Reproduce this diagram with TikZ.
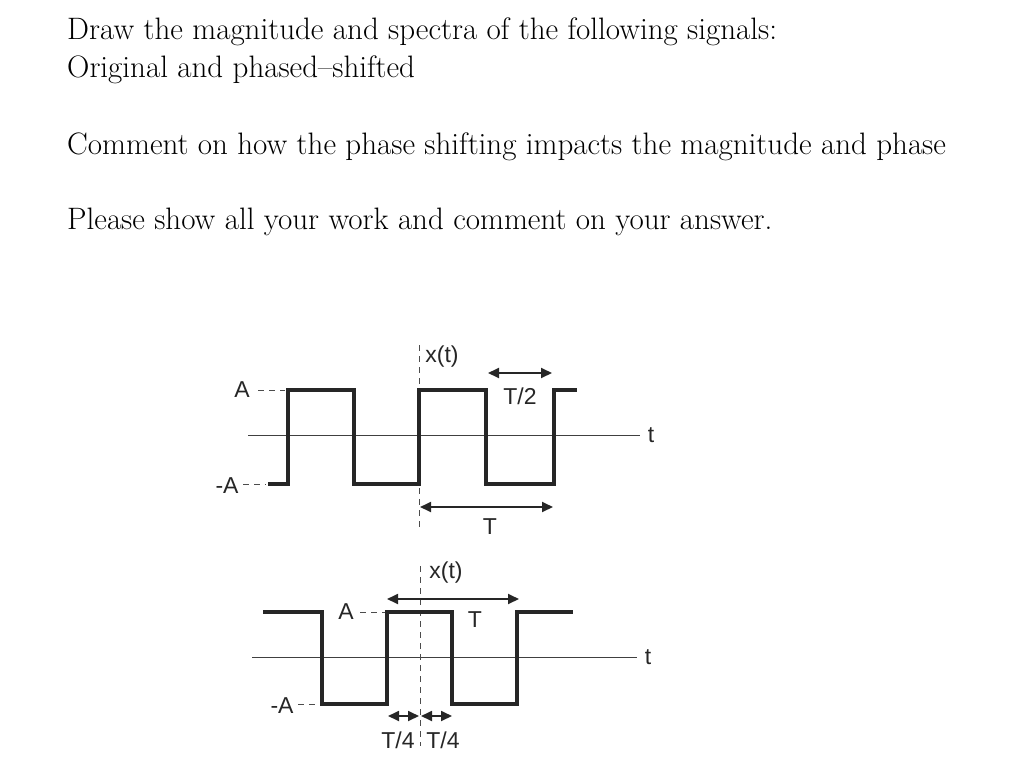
\documentclass[tikz,border=0pt]{standalone}
\usepackage{fontspec}
\newfontfamily\arial{Liberation Sans}
\usetikzlibrary{arrows.meta}
\begin{document}
\begin{tikzpicture}[x=1pt,y=-1pt,
  txt/.style={anchor=base west,inner sep=0pt,font=\fontsize{31}{36}\selectfont},
  lab/.style={inner sep=0pt,font=\arial\fontsize{23}{27}\selectfont,text=black!85},
  sig/.style={line width=3.4pt,black!85,line join=miter},
  ax/.style={line width=0.9pt,black!75},
  dsh/.style={dash pattern=on 6pt off 5pt,line width=0.8pt,black!70},
  dim/.style={line width=1.8pt,black!85,{Triangle[width=10pt,length=11pt]}-{Triangle[width=10pt,length=11pt]}}]
\useasboundingbox (0,0) rectangle (1024,781);
\node[txt] (l1) at (67,40) {Draw the magnitude and spectra of the following signals:};
\node[txt] (l2) at (67,78) {Original and phased--shifted};
\node[txt] (l3) at (67,154) {Comment on how the phase shifting impacts the magnitude and phase};
\node[txt] (l4) at (67,229) {Please show all your work and comment on your answer.};
% top signal
\draw[ax] (248,435) -- (640,435);
\node[lab] (t1) at (651,435) {t};
\draw[dsh] (419,345) -- (419,527);
\node[lab] (x1) at (442,357) {x(t)};
\draw[sig] (268,484) -- (288,484) -- (288,390) -- (354,390) -- (354,484) -- (419,484) -- (419,390) -- (486,390) -- (486,484) -- (554,484) -- (554,390) -- (577,390);
\node[lab] (a1) at (242,390) {A};
\draw[dsh] (258,390) -- (285,390);
\node[lab] (na1) at (227,486) {-A};
\draw[dsh] (243,484) -- (266,484);
\coordinate (h1) at (488,373); \coordinate (h2) at (552,373);
\draw[dim] (h1) -- (h2);
\node[lab] (th) at (520,396) {T/2};
\coordinate (p1) at (420,507); \coordinate (p2) at (553,507);
\draw[dim] (p1) -- (p2);
\node[lab] (tt) at (490,527) {T};
% bottom signal
\draw[ax] (252,657) -- (637,657);
\node[lab] (t2) at (648,657) {t};
\draw[dsh] (420,566) -- (420,746);
\node[lab] (x2) at (446,573) {x(t)};
\draw[sig] (263,612) -- (322,612) -- (322,704) -- (387,704) -- (387,612) -- (452,612) -- (452,704) -- (517,704) -- (517,612) -- (573,612);
\node[lab] (a2) at (346,612) {A};
\draw[dsh] (360,612) -- (385,612);
\node[lab] (na2) at (282,706) {-A};
\draw[dsh] (298,704) -- (319,704);
\coordinate (q1) at (387,599); \coordinate (q2) at (519,599);
\draw[dim] (q1) -- (q2);
\node[lab] (tb) at (475,620) {T};
\coordinate (r1) at (388,716); \coordinate (r2) at (419,716);
\coordinate (r3) at (421,716); \coordinate (r4) at (452,716);
\draw[dim] (r1) -- (r2);
\draw[dim] (r3) -- (r4);
\node[lab] (q4a) at (398,740) {T/4};
\node[lab] (q4b) at (443,740) {T/4};
\end{tikzpicture}
\end{document}
